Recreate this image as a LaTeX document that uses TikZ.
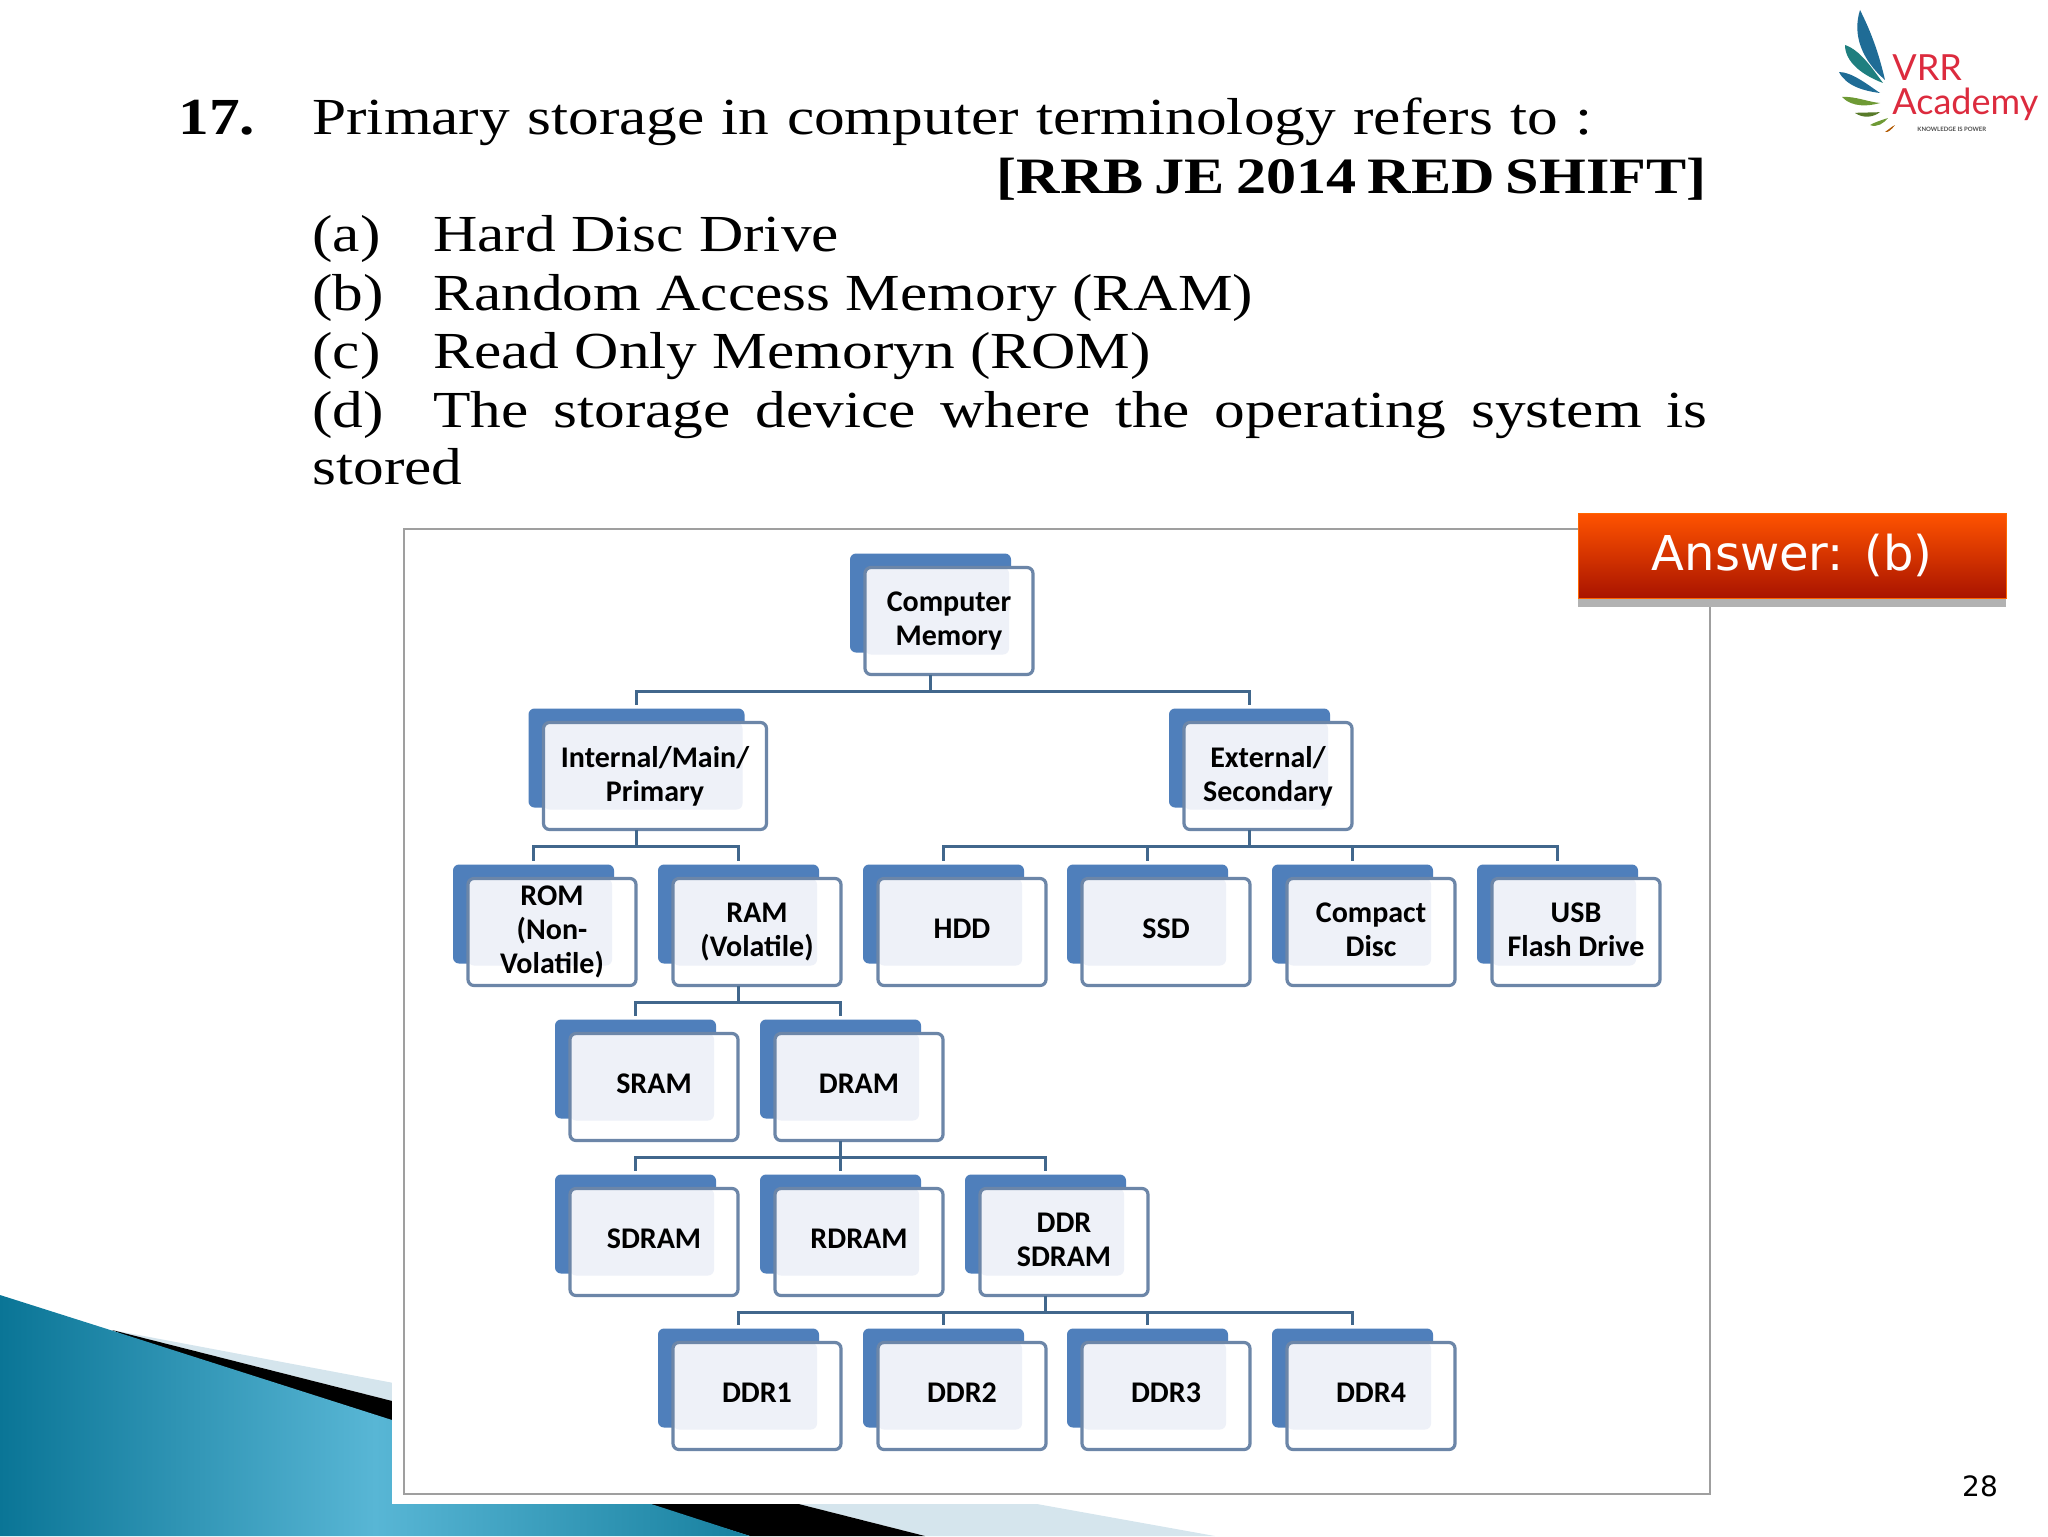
\documentclass[tikz,border=0pt]{standalone}
\usepackage{fontspec}
\setmainfont[FakeStretch=1.18]{Liberation Serif}
\newfontfamily\boxfont{Carlito}
\newfontfamily\slidefont{DejaVu Sans}
\newfontfamily\logofont{Lato}
\usetikzlibrary{shadows}
\newcommand{\lowpad}{\rule[-2pt]{0pt}{2pt}}
\definecolor{backblue}{HTML}{4F7FBB}
\definecolor{edgeblue}{HTML}{6C86A8}
\definecolor{tintblue}{HTML}{EEF1F8}
\definecolor{busblue}{HTML}{41678C}
\definecolor{logored}{HTML}{DC2B3E}
\definecolor{logoblue}{HTML}{1F6C96}
\definecolor{logoteal}{HTML}{1F7F7F}
\definecolor{logogreen}{HTML}{6E9A35}
\definecolor{wedgelight}{HTML}{D5E5ED}
\definecolor{tealdark}{HTML}{0A7596}
\definecolor{teallight}{HTML}{58B6D5}
\definecolor{tealmid}{HTML}{17809F}
\tikzset{
  question/.style = {anchor=base west, inner sep=0pt, font=\fontsize{26}{30}\selectfont},
  backbox/.style = {fill=backblue, rounded corners=3pt, inner sep=0pt, outer sep=0pt, minimum height=49.5pt},
  frontbox/.style = {
    draw=edgeblue, line width=1.6pt, fill=white, rounded corners=3pt,
    inner sep=0pt, outer sep=0pt, minimum height=53.5pt, align=center,
    font=\boxfont\bfseries\fontsize{15}{17}\selectfont,
    path picture={\fill[tintblue] (path picture bounding box.north west) rectangle
      ([xshift=-12pt,yshift=10pt]path picture bounding box.south east);}
  },
  busline/.style = {draw=busblue, line width=1.7pt}
}

\begin{document}
\begin{tikzpicture}[x=0.5pt,y=-0.5pt]
  \useasboundingbox (0,0) rectangle (2048,1536);
  % corner decoration
  \fill[wedgelight] (112,1330) -- (1037,1504) -- (1215,1536) -- (925,1536) -- cycle;
  \fill[black] (112,1330) -- (925,1536) -- (750,1536) -- (183,1360) -- cycle;
  \shade[left color=tealdark, right color=tealmid, middle color=teallight]
    (0,1295) -- (104,1328) -- (392,1420) -- (750,1536) -- (0,1536) -- cycle;
  % question
  \node[question, font=\bfseries\fontsize{26}{30}\selectfont] (num) at (178,134) {17.};
  \node[question] (stem) at (312,134) {\makebox[640pt][s]{Primary storage in computer terminology refers to :}};
  \node[anchor=base east, inner sep=0pt, font=\bfseries\fontsize{25.5}{30}\selectfont] (exam) at (1707,193) {\makebox[355pt][s]{[RRB JE 2014 RED SHIFT]}};
  \foreach \name/\ypos/\mark/\txt in {a/251/(a)/Hard Disc Drive,b/310/(b)/Random Access Memory (RAM),c/368/(c)/Read Only Memoryn (ROM)} {
    \node[question] (mark-\name) at (312,\ypos) {\mark};
    \node[question] (opt-\name) at (433,\ypos) {\txt};
  }
  \node[question] (mark-d) at (312,427) {(d)};
  \node[question] (opt-d) at (433,427) {\makebox[637pt][s]{The storage device where the operating system is}};
  \node[question] (opt-e) at (312,484) {stored};
  % diagram panel
  \fill[white] (392,510) rectangle (1716,1504);
  \draw[gray!75, line width=0.8pt] (404,529) rectangle (1710,1494);
  \foreach \name/\xpos/\ypos/\wid/\txt in {
    cm/949/621/84/{Computer\\Memory},
    ib/655/776/111.5/{Internal/Main/\\Primary},
    eb/1268/776/84/{External/\\Secondary},
    rom/552/932/84/{ROM\\(Non-\\Volatile)},
    ram/757/932/84/{RAM\\(Volatile)},
    hdd/962/932/84/{HDD\strut},
    ssd/1166/932/84/{SSD\strut},
    cd/1371/932/84/{Compact\\Disc\lowpad},
    usb/1576/932/84/{USB\\Flash Drive\lowpad},
    sram/654/1087/84/{SRAM\strut},
    dram/859/1087/84/{DRAM\strut},
    sdram/654/1242/84/{SDRAM\strut},
    rdram/859/1242/84/{RDRAM\strut},
    ddr/1064/1242/84/{DDR\\SDRAM\lowpad},
    ddra/757/1396/84/{DDR1\strut},
    ddrb/962/1396/84/{DDR2\strut},
    ddrc/1166/1396/84/{DDR3\strut},
    ddrd/1371/1396/84/{DDR4\strut}} {
    \node[backbox, minimum width={(\wid-3.5)*1pt}, xshift=-9.25pt, yshift=9pt] (\name-back) at (\xpos,\ypos) {};
    \node[frontbox, minimum width=\wid pt] (\name) at (\xpos,\ypos) {\txt};
  }
  \foreach \parent/\kids in {cm/{ib,eb},ib/{rom,ram},eb/{hdd,ssd,cd,usb},ram/{sram,dram},dram/{sdram,rdram,ddr},ddr/{ddra,ddrb,ddrc,ddrd}} {
    \path (\parent-back.south |- \parent.south) ++(0,17) coordinate (\parent-bus);
    \draw[busline] (\parent-back.south |- \parent.south) -- (\parent-bus);
    \foreach \kid in \kids {
      \draw[busline, shorten >=2pt] (\parent-bus) -| (\kid-back.north);
    }
  }
  % answer banner
  \node[draw=orange!80!red, top color=orange!65!red, bottom color=red!60!black!85!orange, minimum width=214pt, minimum height=42.5pt,
    inner sep=0pt, text=white, font=\slidefont\fontsize{24}{28}\selectfont,
    drop shadow={shadow xshift=0pt, shadow yshift=-4pt, fill=black!30, opacity=1}] (answer) at (1792,556) {\raisebox{4pt}{Answer: (b)}};
  \node[font=\slidefont\fontsize{14}{16}\selectfont] (page) at (1980,1486) {28};
  % logo
  \fill[logoblue] (1860,10) .. controls (1852,35) and (1862,60) .. (1885,80) .. controls (1878,50) and (1870,30) .. cycle;
  \fill[logoteal] (1845,45) .. controls (1845,62) and (1862,75) .. (1883,83) .. controls (1872,68) and (1860,50) .. cycle;
  \fill[logoblue] (1839,72) .. controls (1846,86) and (1864,91) .. (1880,93) .. controls (1868,85) and (1852,72) .. cycle;
  \fill[logogreen] (1842,97) .. controls (1852,108) and (1870,106) .. (1880,103) .. controls (1868,102) and (1855,96) .. cycle;
  \fill[logogreen!80!black] (1855,113) .. controls (1864,119) and (1874,117) .. (1880,112) .. controls (1872,113) and (1864,112) .. cycle;
  \fill[logogreen] (1870,125) .. controls (1877,128) and (1884,123) .. (1888,118) .. controls (1882,120) and (1875,122) .. cycle;
  \fill[orange!70!black] (1885,132) .. controls (1888,133) and (1892,129) .. (1895,125) .. controls (1891,127) and (1888,130) .. cycle;
  \node[anchor=base west, inner sep=0pt, text=logored, font=\logofont\fontsize{18}{20}\selectfont] (logo-vrr) at (1892,81) {VRR};
  \node[anchor=base west, inner sep=0pt, text=logored, font=\logofont\fontsize{18}{20}\selectfont] (logo-academy) at (1892,114) {Academy};
  \node[anchor=base west, inner sep=0pt, text=black!70, font=\logofont\bfseries\fontsize{3}{4}\selectfont] (logo-tag) at (1917,132) {KNOWLEDGE IS POWER};
\end{tikzpicture}
\end{document}
